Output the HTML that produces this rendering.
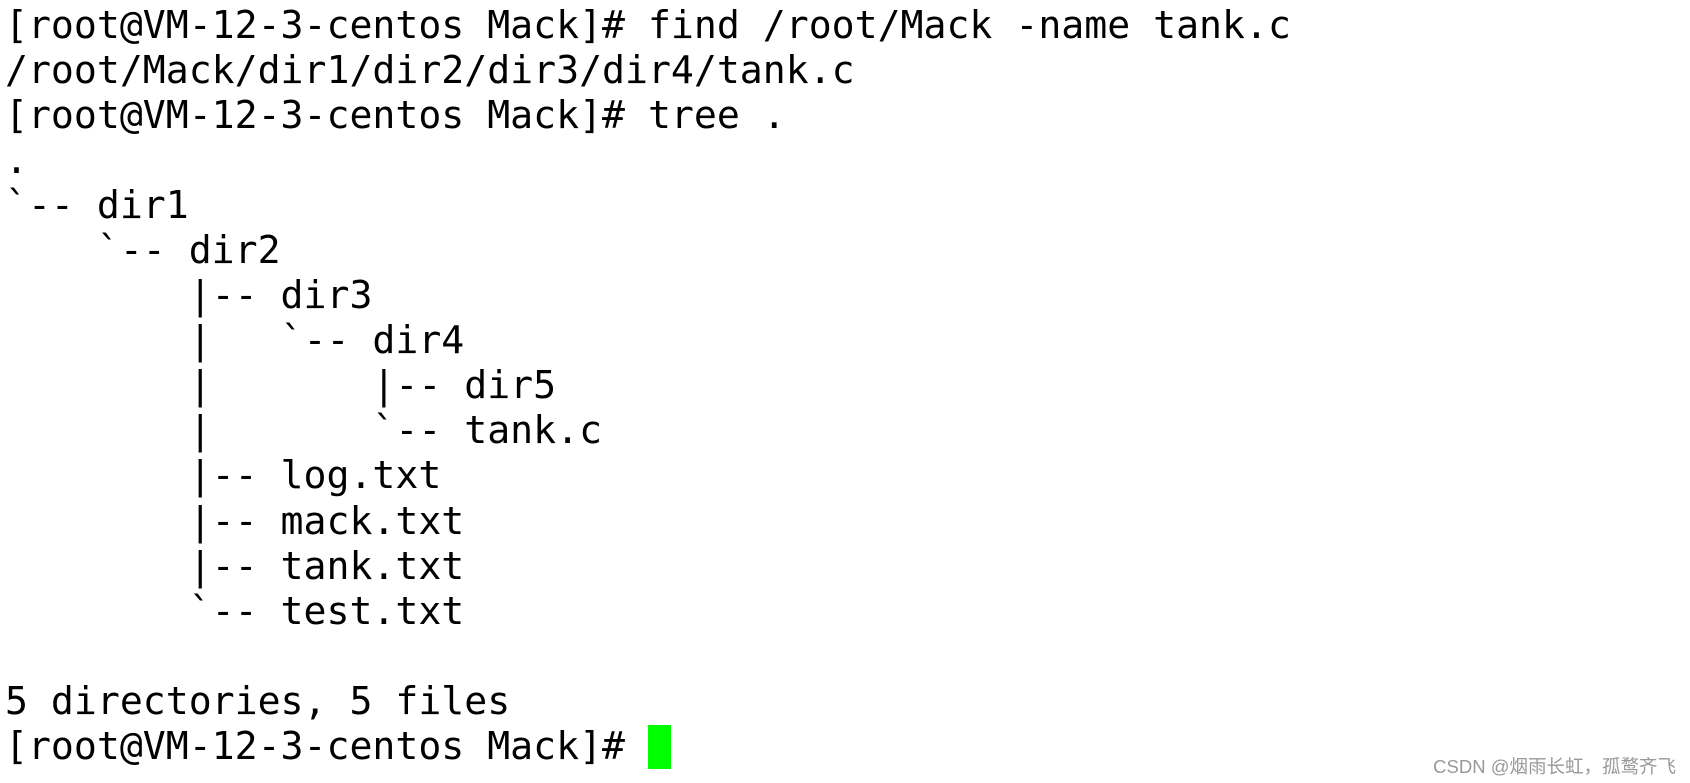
<!DOCTYPE html>
<html><head><meta charset="utf-8"><style>
html,body{margin:0;padding:0;background:#fff;width:1690px;height:783px;overflow:hidden;position:relative}
pre{margin:0;position:absolute;left:5px;top:3px;font-family:"DejaVu Sans Mono","Liberation Mono",monospace;font-size:38.15px;line-height:45.05px;color:#000;white-space:pre}
.cur{position:absolute;left:648px;top:725px;width:23px;height:44px;background:#00ff00}
.wm{position:absolute;right:14px;top:753px;font-family:"Liberation Sans","Noto Sans CJK SC",sans-serif;font-size:18.5px;color:#999}
</style></head><body>
<pre>[root@VM-12-3-centos Mack]# find /root/Mack -name tank.c
/root/Mack/dir1/dir2/dir3/dir4/tank.c
[root@VM-12-3-centos Mack]# tree .
.
`-- dir1
    `-- dir2
        |-- dir3
        |   `-- dir4
        |       |-- dir5
        |       `-- tank.c
        |-- log.txt
        |-- mack.txt
        |-- tank.txt
        `-- test.txt

5 directories, 5 files
[root@VM-12-3-centos Mack]# </pre>
<div class="cur"></div>
<div class="wm">CSDN @烟雨长虹，孤鹜齐飞</div>
</body></html>
